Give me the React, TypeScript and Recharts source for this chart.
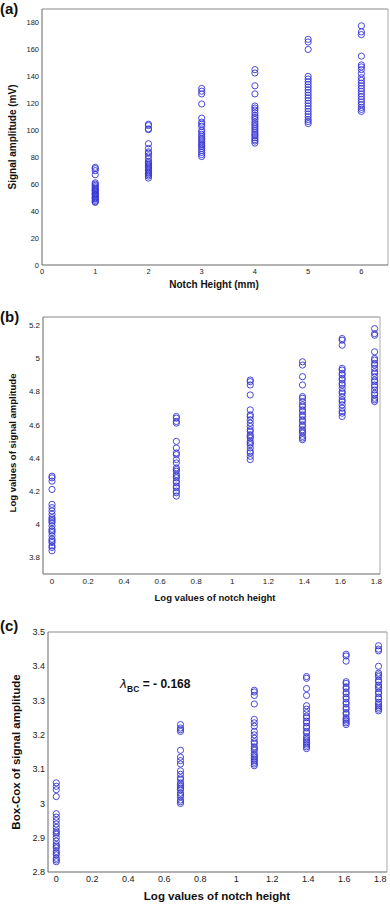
import React from "react";
import { ScatterChart, Scatter, XAxis, YAxis, ReferenceLine } from "recharts";

// ---------- Panel (a): raw values ----------
const notchHeights = [1, 2, 3, 4, 5, 6];
const ampG1 = [72.5, 71.5, 70, 67, 61, 60, 59, 58, 57, 56, 55.5, 55, 54, 53, 52.5, 52, 51, 50, 49.5, 49, 48, 47, 46.5];
const ampG2 = [104.5, 103.5, 101, 100.5, 90, 86.5, 84, 83, 81, 79, 77, 76, 75, 74, 73, 72, 71, 70, 69, 68, 67, 66, 64.5];
const ampG3 = [131, 129, 127, 119.5, 109, 106, 104.5, 103, 100, 98.5, 97, 95.5, 94, 93, 91.5, 90, 89, 88, 86.5, 85, 83.5, 82, 80.5];
const ampG4 = [145, 142.5, 133, 127, 118, 116.5, 115, 113, 111, 109.5, 108, 106, 104.5, 103, 101.5, 100, 98.5, 97, 96, 94.5, 93, 92, 90.5];
const ampG5 = [167.5, 165.5, 160, 140, 138, 136, 134, 132, 130, 128, 126, 124, 122, 120, 118, 116, 114, 112, 110, 108, 106.5, 105];
const ampG6 = [177.5, 173, 171, 155, 148.5, 147, 145, 142, 139, 137, 135, 133, 131, 129, 127, 125, 123, 121, 119, 117, 115.5, 114];
const aYTicks = [0, 20, 40, 60, 80, 100, 120, 140, 160, 180];
const aXTicks = [0, 1, 2, 3, 4, 5, 6];

// ---------- Panel (b): log values ----------
const logNotch = [0, 0.69, 1.1, 1.39, 1.61, 1.79];
const logG1 = [4.29, 4.28, 4.26, 4.21, 4.12, 4.1, 4.08, 4.06, 4.04, 4.03, 4.02, 4.01, 3.99, 3.97, 3.96, 3.95, 3.93, 3.91, 3.9, 3.89, 3.87, 3.86, 3.84];
const logG2 = [4.65, 4.64, 4.62, 4.61, 4.5, 4.46, 4.43, 4.42, 4.39, 4.37, 4.34, 4.33, 4.32, 4.3, 4.29, 4.28, 4.26, 4.25, 4.23, 4.22, 4.2, 4.19, 4.17];
const logG3 = [4.87, 4.86, 4.84, 4.78, 4.69, 4.66, 4.65, 4.63, 4.61, 4.59, 4.57, 4.56, 4.54, 4.53, 4.52, 4.5, 4.49, 4.48, 4.46, 4.44, 4.43, 4.41, 4.39];
const logG4 = [4.98, 4.96, 4.89, 4.84, 4.77, 4.76, 4.74, 4.72, 4.71, 4.69, 4.68, 4.66, 4.65, 4.63, 4.62, 4.6, 4.59, 4.57, 4.56, 4.55, 4.53, 4.52, 4.51];
const logG5 = [5.12, 5.11, 5.08, 4.94, 4.93, 4.91, 4.9, 4.88, 4.87, 4.85, 4.84, 4.82, 4.8, 4.79, 4.77, 4.75, 4.74, 4.72, 4.7, 4.68, 4.67, 4.65];
const logG6 = [5.18, 5.15, 5.14, 5.04, 5.0, 4.99, 4.97, 4.96, 4.94, 4.92, 4.91, 4.89, 4.87, 4.86, 4.84, 4.83, 4.81, 4.79, 4.78, 4.76, 4.75, 4.74];
const bYTicks = [3.8, 4, 4.2, 4.4, 4.6, 4.8, 5, 5.2];
const logXTicks = [0, 0.2, 0.4, 0.6, 0.8, 1, 1.2, 1.4, 1.6, 1.8];

// ---------- Panel (c): Box-Cox values ----------
const bcG1 = [3.06, 3.05, 3.04, 3.02, 2.97, 2.96, 2.95, 2.94, 2.93, 2.92, 2.915, 2.91, 2.9, 2.89, 2.88, 2.875, 2.87, 2.86, 2.855, 2.85, 2.84, 2.835, 2.83];
const bcG2 = [3.23, 3.22, 3.215, 3.21, 3.155, 3.135, 3.125, 3.115, 3.095, 3.085, 3.075, 3.07, 3.06, 3.055, 3.05, 3.045, 3.04, 3.03, 3.025, 3.02, 3.01, 3.005, 3.0];
const bcG3 = [3.33, 3.325, 3.315, 3.29, 3.245, 3.235, 3.225, 3.21, 3.2, 3.19, 3.18, 3.175, 3.165, 3.16, 3.155, 3.145, 3.14, 3.135, 3.13, 3.125, 3.12, 3.115, 3.11];
const bcG4 = [3.37, 3.365, 3.335, 3.315, 3.285, 3.275, 3.265, 3.255, 3.25, 3.24, 3.235, 3.225, 3.22, 3.21, 3.205, 3.195, 3.19, 3.185, 3.18, 3.175, 3.17, 3.165, 3.16];
const bcG5 = [3.435, 3.43, 3.415, 3.355, 3.35, 3.34, 3.335, 3.325, 3.32, 3.31, 3.305, 3.295, 3.29, 3.28, 3.275, 3.265, 3.26, 3.25, 3.245, 3.24, 3.235, 3.23];
const bcG6 = [3.46, 3.45, 3.445, 3.4, 3.38, 3.375, 3.37, 3.36, 3.355, 3.345, 3.34, 3.335, 3.325, 3.32, 3.31, 3.305, 3.295, 3.29, 3.285, 3.28, 3.275, 3.27];
const cYTicks = [2.8, 2.9, 3, 3.1, 3.2, 3.3, 3.4, 3.5];

const toPoints = (xs: number[], groups: number[][]) =>
  groups.flatMap((vals, i) => vals.map((v) => ({ x: xs[i], y: v })));

const dataA = toPoints(notchHeights, [ampG1, ampG2, ampG3, ampG4, ampG5, ampG6]);
const dataB = toPoints(logNotch, [logG1, logG2, logG3, logG4, logG5, logG6]);
const dataC = toPoints(logNotch, [bcG1, bcG2, bcG3, bcG4, bcG5, bcG6]);

const BLUE = "#3535d6";
const FONT = "'Liberation Sans', Arial, sans-serif";

const Ring = (props: any) => {
  if (props.cx == null || props.cy == null) return null;
  return <circle cx={props.cx} cy={props.cy} r={3.1} fill="none" stroke={BLUE} strokeWidth={0.9} />;
};

const fmt = (v: number) => String(Number(v.toFixed(2)));

type PanelProps = {
  data: { x: number; y: number }[];
  height: number;
  margin: { top: number; right: number; bottom: number; left: number };
  yWidth: number;
  xHeight: number;
  xDomain: [number, number];
  yDomain: [number, number];
  xTicks: number[];
  yTicks: number[];
  fontSize: number;
};

const Panel = (p: PanelProps) => {
  const tick = { fontSize: p.fontSize, fill: "#222", fontFamily: FONT };
  return (
    <ScatterChart width={390} height={p.height} margin={p.margin}>
      <XAxis
        type="number"
        dataKey="x"
        domain={p.xDomain}
        ticks={p.xTicks}
        tickFormatter={fmt}
        allowDataOverflow
        height={p.xHeight}
        tickLine={false}
        tickSize={0}
        tickMargin={4}
        tick={tick}
        stroke="#666"
        interval={0}
      />
      <YAxis
        type="number"
        dataKey="y"
        domain={p.yDomain}
        ticks={p.yTicks}
        tickFormatter={fmt}
        allowDataOverflow
        width={p.yWidth}
        tickLine={false}
        tickSize={0}
        tickMargin={3}
        tick={tick}
        stroke="#666"
        interval={0}
      />
      <ReferenceLine y={p.yDomain[1]} stroke="#8a8a8a" strokeWidth={1} />
      <ReferenceLine x={p.xDomain[1]} stroke="#aaa" strokeWidth={1} />
      <Scatter data={p.data} shape={Ring} isAnimationActive={false} />
    </ScatterChart>
  );
};

const abs = (extra: React.CSSProperties): React.CSSProperties => ({
  position: "absolute",
  fontFamily: FONT,
  fontWeight: "bold",
  color: "#111",
  whiteSpace: "nowrap",
  lineHeight: 1,
  ...extra,
});

const XTitle = ({ text, cx, cy, size }: { text: string; cx: number; cy: number; size: number }) => (
  <div style={abs({ left: cx, top: cy, fontSize: size, transform: "translate(-50%, -50%)" })}>{text}</div>
);
const YTitle = ({ text, cx, cy, size }: { text: string; cx: number; cy: number; size: number }) => (
  <div style={abs({ left: cx, top: cy, fontSize: size, transform: "translate(-50%, -50%) rotate(-90deg)" })}>{text}</div>
);
const Tag = ({ text, cy }: { text: string; cy: number }) => (
  <div style={abs({ left: 0, top: cy, fontSize: 15, transform: "translateY(-50%)" })}>{text}</div>
);

export default function App() {
  return (
    <div style={{ position: "absolute", left: 0, top: 0, width: 390, height: 905, background: "#fff", overflow: "hidden" }}>
      <div style={{ position: "absolute", left: 0, top: 0 }}>
        <Panel
          data={dataA}
          height={300}
          margin={{ top: 9, right: 2, bottom: 0, left: 0 }}
          yWidth={42}
          xHeight={35}
          xDomain={[0, 6.5]}
          yDomain={[0, 190]}
          xTicks={aXTicks}
          yTicks={aYTicks}
          fontSize={7.5}
        />
      </div>
      <div style={{ position: "absolute", left: 0, top: 300 }}>
        <Panel
          data={dataB}
          height={310}
          margin={{ top: 17, right: 10, bottom: 0, left: 0 }}
          yWidth={43}
          xHeight={36}
          xDomain={[-0.05, 1.82]}
          yDomain={[3.7, 5.25]}
          xTicks={logXTicks}
          yTicks={bYTicks}
          fontSize={8}
        />
      </div>
      <div style={{ position: "absolute", left: 0, top: 610 }}>
        <Panel
          data={dataC}
          height={295}
          margin={{ top: 22, right: 3, bottom: 0, left: 0 }}
          yWidth={48}
          xHeight={33}
          xDomain={[-0.046, 1.837]}
          yDomain={[2.8, 3.5]}
          xTicks={logXTicks}
          yTicks={cYTicks}
          fontSize={9}
        />
      </div>

      <Tag text="(a)" cy={8} />
      <Tag text="(b)" cy={315.5} />
      <Tag text="(c)" cy={625} />

      <XTitle text="Notch Height (mm)" cx={214} cy={285} size={10} />
      <YTitle text="Signal amplitude (mV)" cx={13} cy={137} size={10} />

      <XTitle text="Log values of notch height" cx={215} cy={598} size={9.5} />
      <YTitle text="Log values of signal amplitude" cx={13} cy={443} size={9.5} />

      <XTitle text="Log values of notch height" cx={217} cy={897} size={11.5} />
      <YTitle text="Box-Cox of signal amplitude" cx={17} cy={752} size={11.5} />

      <div style={abs({ left: 120, top: 678, fontSize: 12 })}>
        <span style={{ fontFamily: "'DejaVu Sans', sans-serif", fontWeight: "normal", fontStyle: "italic" }}>λ</span>
        <span style={{ fontSize: 8.5, position: "relative", top: 4 }}>BC</span>
        <span> = - 0.168</span>
      </div>
    </div>
  );
}
